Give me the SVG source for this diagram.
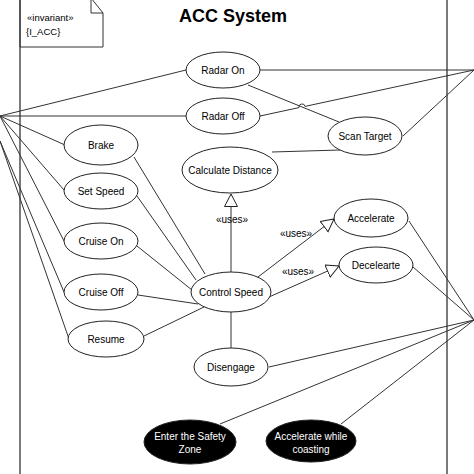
<svg xmlns="http://www.w3.org/2000/svg" width="474" height="474" viewBox="0 0 474 474">
<style>
.uc{fill:#fff;stroke:#222;stroke-width:1}
.ucd{fill:#000;stroke:#222;stroke-width:1}
.t{font-family:"Liberation Sans",Arial,sans-serif;font-size:10px;fill:#000;text-anchor:middle}
.tw{font-family:"Liberation Sans",Arial,sans-serif;font-size:10px;fill:#fff;text-anchor:middle}
.ln{stroke:#333;stroke-width:1;fill:none}
.bd{stroke:#333;stroke-width:1.3;fill:none}
</style>
<defs>
<marker id="tri" markerUnits="userSpaceOnUse" markerWidth="16" markerHeight="16" refX="13" refY="7" orient="auto">
<path d="M0.5,0.5 L13,7 L0.5,13.5 Z" fill="#fff" stroke="#222" stroke-width="1"/>
</marker>
</defs>
<rect width="474" height="474" fill="#fff"/>
<g id="boundary">
<line class="bd" x1="20" y1="0" x2="20" y2="474"/>
<line class="bd" x1="447" y1="0" x2="447" y2="474"/>
</g>
<g id="note">
<path class="ln" d="M20,-2 L91,-2 L103,13 L103,47 L20,47 Z" fill="#fff"/>
<path class="ln" d="M91,-2 L91,13 L103,13"/>
<text x="27" y="21" font-family="Liberation Sans,Arial,sans-serif" font-size="9.5px">«invariant»</text>
<text x="26" y="35" font-family="Liberation Sans,Arial,sans-serif" font-size="9.5px">{I_ACC}</text>
</g>
<text id="title" x="233" y="22" font-family="Liberation Sans,Arial,sans-serif" font-size="18px" font-weight="bold" text-anchor="middle">ACC System</text>
<g id="connectors">
<line class="ln" x1="0" y1="116" x2="186" y2="70"/>
<line class="ln" x1="0" y1="116" x2="186" y2="116"/>
<line class="ln" x1="0" y1="116" x2="65" y2="145"/>
<line class="ln" x1="0" y1="116" x2="64" y2="190"/>
<line class="ln" x1="0" y1="116" x2="64" y2="241"/>
<line class="ln" x1="0" y1="141" x2="64" y2="292"/>
<line class="ln" x1="0" y1="141" x2="69" y2="339"/>
<line class="ln" x1="260" y1="70" x2="474" y2="70"/>
<path class="ln" d="M260,116 L299,107.6 A3,3 0 0 1 305,106.4 L474,70"/>
<line class="ln" x1="248" y1="85" x2="339" y2="122"/>
<line class="ln" x1="403" y1="136" x2="474" y2="70"/>
<line class="ln" x1="272" y1="152" x2="340" y2="150"/>
<line class="ln" x1="409" y1="221" x2="474" y2="320"/>
<line class="ln" x1="413" y1="267" x2="474" y2="320"/>
<line class="ln" x1="269" y1="367" x2="474" y2="320"/>
<line class="ln" x1="220" y1="424" x2="474" y2="320"/>
<line class="ln" x1="341" y1="424" x2="474" y2="320"/>
<line class="ln" x1="134" y1="157" x2="205" y2="274"/>
<line class="ln" x1="137" y1="196" x2="196" y2="280"/>
<line class="ln" x1="137" y1="246" x2="192" y2="290"/>
<line class="ln" x1="138" y1="295" x2="198" y2="304"/>
<line class="ln" x1="144" y1="336" x2="204" y2="307"/>
<line class="ln" x1="231" y1="312" x2="231" y2="348"/>
<line class="ln" x1="231" y1="272" x2="231" y2="194" marker-end="url(#tri)"/>
<line class="ln" x1="258" y1="277" x2="334" y2="219" marker-end="url(#tri)"/>
<line class="ln" x1="269" y1="297" x2="339" y2="266" marker-end="url(#tri)"/>
<text class="t" x="232" y="223">«uses»</text>
<text class="t" x="296" y="237">«uses»</text>
<text class="t" x="298" y="275">«uses»</text>
</g>
<g id="radar-on"><ellipse class="uc" cx="223" cy="70" rx="37" ry="18"/><text class="t" x="223" y="74">Radar On</text></g>
<g id="radar-off"><ellipse class="uc" cx="223" cy="116" rx="37" ry="18"/><text class="t" x="223" y="120">Radar Off</text></g>
<g id="scan-target"><ellipse class="uc" cx="365" cy="136" rx="37" ry="19"/><text class="t" x="365" y="140">Scan Target</text></g>
<g id="calculate-distance"><ellipse class="uc" cx="230" cy="170" rx="48" ry="23"/><text class="t" x="230" y="174">Calculate Distance</text></g>
<g id="brake"><ellipse class="uc" cx="101" cy="145" rx="37" ry="20"/><text class="t" x="101" y="149">Brake</text></g>
<g id="set-speed"><ellipse class="uc" cx="101" cy="191" rx="37" ry="18"/><text class="t" x="101" y="195">Set Speed</text></g>
<g id="cruise-on"><ellipse class="uc" cx="101" cy="241" rx="37" ry="18"/><text class="t" x="101" y="245">Cruise On</text></g>
<g id="cruise-off"><ellipse class="uc" cx="101" cy="292" rx="37" ry="18"/><text class="t" x="101" y="296">Cruise Off</text></g>
<g id="resume"><ellipse class="uc" cx="106" cy="339" rx="38" ry="18"/><text class="t" x="106" y="343">Resume</text></g>
<g id="control-speed"><ellipse class="uc" cx="231" cy="292" rx="40" ry="20"/><text class="t" x="231" y="296">Control Speed</text></g>
<g id="accelerate"><ellipse class="uc" cx="371" cy="218" rx="37" ry="19"/><text class="t" x="371" y="222">Accelerate</text></g>
<g id="decelearte"><ellipse class="uc" cx="376" cy="265" rx="37" ry="18"/><text class="t" x="376" y="269">Decelearte</text></g>
<g id="disengage"><ellipse class="uc" cx="231" cy="367" rx="37" ry="19"/><text class="t" x="231" y="371">Disengage</text></g>
<g id="enter-safety-zone"><ellipse class="ucd" cx="190" cy="442" rx="46" ry="22"/><text class="tw" x="190" y="440">Enter the Safety</text><text class="tw" x="190" y="453">Zone</text></g>
<g id="accelerate-coasting"><ellipse class="ucd" cx="311" cy="441" rx="45" ry="21"/><text class="tw" x="311" y="440">Accelerate while</text><text class="tw" x="311" y="453">coasting</text></g>
</svg>
